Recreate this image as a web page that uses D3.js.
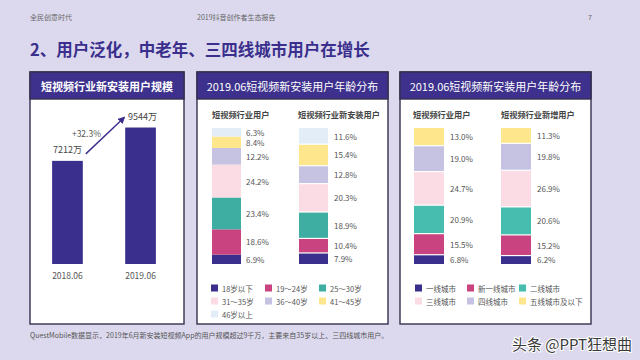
<!DOCTYPE html>
<html><head><meta charset="utf-8">
<script src="https://cdn.jsdelivr.net/npm/d3@7"></script>
<style>
html,body{margin:0;padding:0;background:#dcd9ee;}
svg{display:block;font-family:"Noto Sans CJK SC","Noto Sans",sans-serif;}
</style></head>
<body><svg id="c" width="640" height="360"></svg>
<script>
// ---- data ----
const scaleYears = ["2018.06", "2019.06"];
const scaleValues = [7212, 9544];
const growthLabel = "+32.3%";

const ageGroups = ["18岁以下", "19～24岁", "25～30岁", "31～35岁", "36～40岁", "41～45岁", "46岁以上"];
const ageIndustry = [6.9, 18.6, 23.4, 24.2, 12.2, 8.4, 6.3];
const ageNewInstall = [7.9, 10.4, 18.9, 20.3, 12.8, 15.4, 11.6];

const cityTiers = ["一线城市", "新一线城市", "二线城市", "三线城市", "四线城市", "五线城市及以下"];
const cityIndustry = [6.8, 15.5, 20.9, 24.7, 19.0, 13.0];
const cityNew = [6.2, 15.2, 20.6, 26.9, 19.8, 11.3];

const palette = ["#3b2f8e", "#c8437f", "#3eaea3", "#fbdce4", "#c6c2e2", "#fde68c", "#e2edf8"];
const cityPalette = ["#3b2f8e", "#c8437f", "#47bdb0", "#fbdce4", "#c6c2e2", "#fde68c"];

// ---- drawing ----
const svg = d3.select("#c");
const navy = "#3b2f8e";

svg.append("rect").attr("width", 640).attr("height", 360).attr("fill", "#dcd9ee");

// top header
const hdr = svg.append("g").attr("font-size", 7).attr("fill", "#666");
hdr.append("text").attr("x", 30).attr("y", 20).text("全民创意时代");
hdr.append("text").attr("x", 197).attr("y", 20).text("2019抖音创作者生态报告");
hdr.append("text").attr("x", 588).attr("y", 20).text("7");

svg.append("text").attr("x", 30).attr("y", 56).attr("font-size", 16.5).attr("font-weight", "bold")
  .attr("fill", "#3a2f8c").text("2、用户泛化，中老年、三四线城市用户在增长");

// panels
const panels = [
  {x: 30, w: 154, title: "短视频行业新安装用户规模", fs: 11, fw: "bold"},
  {x: 197, w: 191, title: "2019.06短视频新安装用户年龄分布", fs: 11, fw: "normal"},
  {x: 400, w: 191, title: "2019.06短视频新安装用户年龄分布", fs: 11, fw: "normal"}
];
const pTop = 72, pBot = 324, hH = 27;
panels.forEach(p => {
  svg.append("rect").attr("x", p.x).attr("y", pTop).attr("width", p.w).attr("height", pBot - pTop)
    .attr("fill", "#fff").attr("stroke", "#35304d").attr("stroke-width", 1.4);
  svg.append("rect").attr("x", p.x).attr("y", pTop).attr("width", p.w).attr("height", hH)
    .attr("fill", "#3d318d").attr("stroke", "#35304d").attr("stroke-width", 1.4);
  svg.append("text").attr("x", p.x + p.w / 2).attr("y", pTop + hH / 2 + 0.5)
    .attr("text-anchor", "middle").attr("dominant-baseline", "central")
    .attr("font-size", p.fs).attr("font-weight", p.fw).attr("fill", "#fff").text(p.title);
});

// panel 1: bar chart
const x1 = d3.scaleBand().domain(scaleYears).range([28, 180]).paddingInner(0.58).paddingOuter(0.33);
const y1 = d3.scaleLinear().domain([0, 10000]).range([264, 121]);
const g1 = svg.append("g");
g1.selectAll("rect").data(scaleValues).join("rect")
  .attr("x", (d, i) => x1(scaleYears[i])).attr("width", x1.bandwidth())
  .attr("y", d => y1(d)).attr("height", d => y1(0) - y1(d)).attr("fill", navy);
g1.selectAll("text.v").data(scaleValues).join("text").attr("class", "v")
  .attr("x", (d, i) => x1(scaleYears[i]) + x1.bandwidth() / 2 + (i === 1 ? 2 : 0))
  .attr("y", d => y1(d) - 8).attr("text-anchor", "middle")
  .attr("font-size", 9).attr("fill", "#444").text(d => d + "万");
g1.selectAll("text.a").data(scaleYears).join("text").attr("class", "a")
  .attr("x", d => x1(d) + x1.bandwidth() / 2).attr("y", 279).attr("text-anchor", "middle")
  .attr("font-size", 8.5).attr("fill", "#555").text(d => d);

// growth arrow
svg.append("defs").append("marker").attr("id", "ah").attr("viewBox", "0 0 10 10")
  .attr("refX", 8).attr("refY", 5).attr("markerWidth", 5).attr("markerHeight", 5)
  .attr("orient", "auto").append("path").attr("d", "M0,0L10,5L0,10z").attr("fill", navy);
const ax0 = x1(scaleYears[0]) + x1.bandwidth() + 3, ay0 = y1(scaleValues[0]) - 7;
const ax1 = x1(scaleYears[1]) - 1, ay1 = y1(scaleValues[1]) - 10;
svg.append("line").attr("x1", ax0).attr("y1", ay0).attr("x2", ax1).attr("y2", ay1)
  .attr("stroke", navy).attr("stroke-width", 1.4).attr("marker-end", "url(#ah)");
svg.append("text").attr("x", (ax0 + ax1) / 2 - 4).attr("y", (ay0 + ay1) / 2 + 1)
  .attr("text-anchor", "end").attr("font-size", 8.5).attr("fill", "#555").text(growthLabel);

// stacked bars
function stackBar(values, colors, bx, bw, labelX, gap, subtitle, subX) {
  const total = d3.sum(values);
  const y = d3.scaleLinear().domain([0, total]).range([264, 128]);
  const cum = d3.cumsum(values);
  const g = svg.append("g");
  g.selectAll("rect").data(values).join("rect")
    .attr("x", bx).attr("width", bw)
    .attr("y", (d, i) => y(cum[i]) + (i < values.length - 1 ? gap / 2 : 0))
    .attr("height", (d, i) => Math.max(0, y(cum[i] - d) - y(cum[i]) - (i < values.length - 1 ? gap / 2 : 0) - (i > 0 ? gap / 2 : 0)))
    .attr("fill", (d, i) => colors[i]);
  const ly = values.map((d, i) => (y(cum[i]) + y(cum[i] - d)) / 2);
  for (let i = 1; i < ly.length; i++) if (ly[i - 1] - ly[i] < 9.5) ly[i] = ly[i - 1] - 9.5;
  g.selectAll("text").data(values).join("text")
    .attr("x", labelX).attr("y", (d, i) => ly[i])
    .attr("dominant-baseline", "central").attr("font-size", 8).attr("fill", "#555")
    .text(d => d.toFixed(1) + "%");
  svg.append("text").attr("x", subX).attr("y", 118).attr("font-size", 8.2).attr("font-weight", "bold")
    .attr("fill", "#444").text(subtitle);
}
stackBar(ageIndustry, palette, 212, 29, 246, 0, "短视频行业用户", 212);
stackBar(ageNewInstall, palette, 299, 29, 334, 1.2, "短视频行业新安装用户", 298);
stackBar(cityIndustry, cityPalette, 414, 30, 450, 1.2, "短视频行业用户", 413);
stackBar(cityNew, cityPalette, 501, 30, 537, 1.2, "短视频行业新增用户", 501);

// legends
function legend(items, colors, x0, colW, y0, rowH) {
  const g = svg.append("g");
  items.forEach((t, i) => {
    const c = i % 3, r = Math.floor(i / 3);
    const lx = x0 + c * colW, ly = y0 + r * rowH;
    g.append("rect").attr("x", lx).attr("y", ly - 3.5).attr("width", 7).attr("height", 7).attr("fill", colors[i]);
    g.append("text").attr("x", lx + 11).attr("y", ly).attr("dominant-baseline", "central")
      .attr("font-size", 7.5).attr("fill", "#555").text(t);
  });
}
legend(ageGroups, palette, 211, 54, 288, 13);
legend(cityTiers, cityPalette, 415, 52, 288, 13);

// footnote
svg.append("text").attr("x", 30).attr("y", 338).attr("font-size", 7).attr("fill", "#555")
  .text("QuestMobile数据显示，2019年6月新安装短视频App的用户规模超过9千万，主要来自35岁以上、三四线城市用户。");

// watermark
svg.append("text").attr("x", 632).attr("y", 350).attr("text-anchor", "end").attr("font-size", 15)
  .attr("fill", "#3a3a3a").attr("stroke", "#fff").attr("stroke-width", 2).attr("paint-order", "stroke")
  .text("头条 @PPT狂想曲");
</script></body></html>
